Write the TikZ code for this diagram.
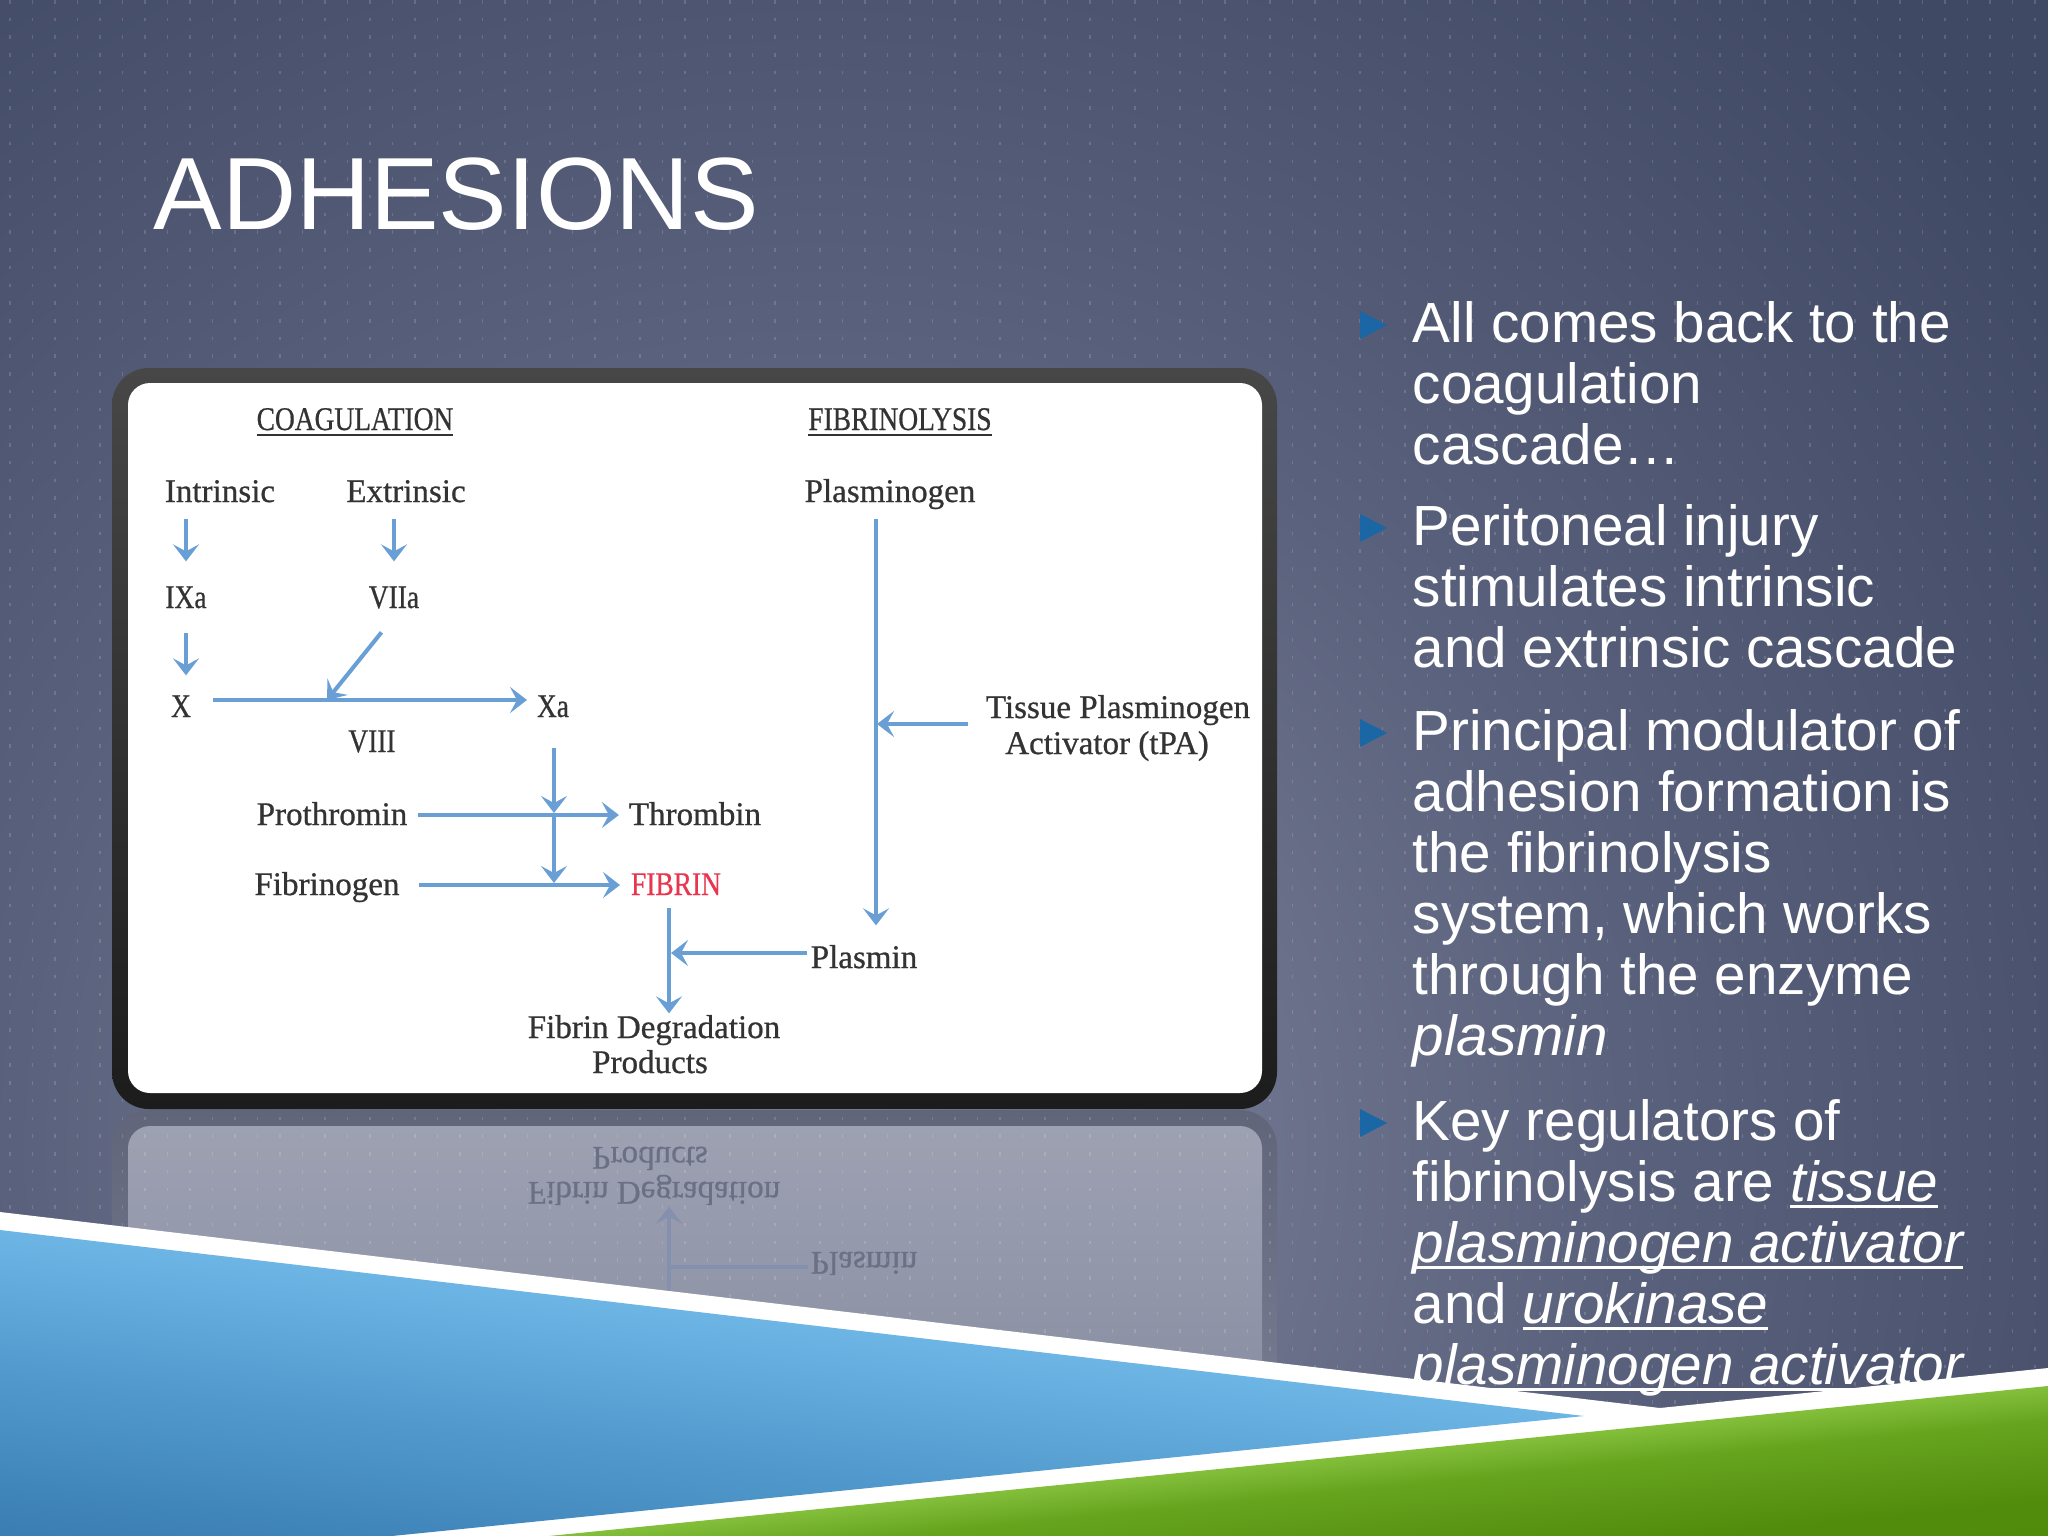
\documentclass[tikz,border=0pt]{standalone}
\usepackage{fontspec}
\usepackage{graphicx}
\setmainfont{Liberation Serif}
\newfontfamily\arialf{Liberation Sans}
\newfontfamily\diagfont[FakeBold=0.7]{Liberation Serif}
\usetikzlibrary{arrows.meta,calc}

\definecolor{bgA}{HTML}{868CA3}
\definecolor{bgB}{HTML}{70768F}
\definecolor{bgC}{HTML}{5A617C}
\definecolor{bgD}{HTML}{4A526D}
\definecolor{bgE}{HTML}{404963}
\definecolor{bl0}{HTML}{1B5686}
\definecolor{bl1}{HTML}{2B6CA2}
\definecolor{bl2}{HTML}{3C80B5}
\definecolor{bl3}{HTML}{5199CC}
\definecolor{bl4}{HTML}{6CB4E4}
\definecolor{bl5}{HTML}{7CC3EE}
\definecolor{bl6}{HTML}{5AAADE}
\definecolor{bl7}{HTML}{4392CC}
\definecolor{gr0}{HTML}{4A8408}
\definecolor{gr1}{HTML}{528C0C}
\definecolor{gr2}{HTML}{66A41E}
\definecolor{gr3}{HTML}{9AD452}
\definecolor{gr4}{HTML}{B4EC70}
\definecolor{gr5}{HTML}{86C63A}
\definecolor{gr6}{HTML}{58961A}
\definecolor{arrowblue}{HTML}{6A9FD6}
\definecolor{labgray}{HTML}{333333}
\definecolor{fibred}{HTML}{E8364F}
\definecolor{frameTop}{HTML}{474747}
\definecolor{frameBot}{HTML}{1C1C1C}
\definecolor{rfo1}{HTML}{60657A}
\definecolor{rfo2}{HTML}{7E8499}
\definecolor{rfi1}{HTML}{9DA1B2}
\definecolor{rfi2}{HTML}{81879C}
\definecolor{reflText}{HTML}{6C7084}
\definecolor{reflArrow}{HTML}{8590AE}
\definecolor{bulletblue}{HTML}{1B66A4}

\pgfdeclareradialshading{bgsh}{\pgfpoint{0bp}{0bp}}{color(0bp)=(bgA); color(6bp)=(bgB); color(13bp)=(bgC); color(20bp)=(bgD); color(25bp)=(bgE); color(50bp)=(bgE)}
\pgfdeclareverticalshading{bluesh}{100bp}{color(0bp)=(bl0); color(29.8bp)=(bl1); color(41.8bp)=(bl2); color(54.5bp)=(bl3); color(67.3bp)=(bl4); color(75.5bp)=(bl5); color(81.8bp)=(bl6); color(85.5bp)=(bl7); color(100bp)=(bl7)}
\pgfdeclareverticalshading{greensh}{100bp}{color(0bp)=(gr0); color(50bp)=(gr1); color(60bp)=(gr2); color(67.5bp)=(gr3); color(72bp)=(gr4); color(75.5bp)=(gr5); color(78.5bp)=(gr6); color(100bp)=(gr6)}

\newsavebox\ulbox
\newcommand\myul[1]{\sbox\ulbox{#1}\rlap{\rule[-0.125em]{\wd\ulbox}{0.055em}}\usebox\ulbox}
\newcommand\hdul[1]{\sbox\ulbox{#1}\rlap{\rule[-0.19em]{\wd\ulbox}{0.08em}}\usebox\ulbox}
\newcommand\nrw[1]{\scalebox{0.83}[1]{#1}}

\begin{document}
\begin{tikzpicture}[x=0.01cm,y=-0.01cm,
  lab/.style={anchor=base, inner sep=0pt, outer sep=0pt, text=labgray,
    font=\diagfont\fontsize{9.4pt}{11pt}\selectfont, text height=0.7em, text depth=0.25em},
  arr/.style={draw=arrowblue, line width=1.15pt,
    -{Stealth[length=0.17cm, width=0.26cm, inset=0.07cm]}},
  rarr/.style={draw=reflArrow, line width=1.15pt,
    -{Stealth[length=0.17cm, width=0.26cm, inset=0.07cm]}},
  gridtick/.style={draw=white, draw opacity=0.15, line width=0.4pt, dash pattern=on 1pt off 4.04pt},
  bulline/.style={anchor=base west, inner sep=0pt, text=white,
    font=\arialf\fontsize{16.1pt}{19pt}\selectfont},
  btri/.style={fill=bulletblue}
]
\useasboundingbox (0,0) rectangle (2048,1536);

% ---------- background ----------
\fill[bgE] (0,0) rectangle (2048,1536);
\begin{scope}
  \clip (0,0) rectangle (2048,1536);
  \shade[shading=bgsh] (820,1150) circle (1550);
\end{scope}

% ---------- reflection of the picture ----------
\shade[top color=rfo1, bottom color=rfo2, rounded corners=0.37cm] (112,1110) rectangle (1277,1520);
\shade[top color=rfi1, bottom color=rfi2, rounded corners=0.22cm] (128,1126) rectangle (1262,1504);
\begin{scope}[cm={1,0,0,-1,(0,2220)}, transform shape]
  \node[lab, text=reflText] (rfdp1) at (654,1038) {Fibrin Degradation};
  \node[lab, text=reflText] (rfdp2) at (650,1073) {Products};
  \node[lab, text=reflText] (rplasmin) at (864,968) {Plasmin};
  \node[lab, text=reflText] (rfibrin) at (676,895) {\nrw{FIBRIN}};
  \coordinate (rj12) at (669,953);
  \draw[rarr, shorten <=0.04cm] (rfibrin.south -| rj12) -- (rfdp1.north -| rj12);
  \draw[draw=reflArrow, line width=1.15pt, shorten <=0.03cm, shorten >=0.02cm] (rplasmin.west |- rj12) -- (rj12);
\end{scope}

% ---------- dot grid ----------
\foreach \i in {0,...,91} {
  \draw[gridtick] ({10+22.5*\i},0) -- ({10+22.5*\i},1536);
}

% ---------- picture frame ----------
\shade[top color=frameTop, bottom color=frameBot, rounded corners=0.37cm] (112,368) rectangle (1277,1109);
\fill[white, rounded corners=0.22cm] (128,383) rectangle (1262,1093);

% ---------- diagram ----------
\node[lab] (coag) at (355,430) {\nrw{\hdul{COAGULATION}}};
\node[lab] (fibl) at (900,430) {\nrw{\hdul{FIBRINOLYSIS}}};
\node[lab] (intr) at (220,502) {Intrinsic};
\node[lab] (extr) at (406,502) {Extrinsic};
\node[lab] (ixa) at (186,608) {\nrw{IXa}};
\node[lab] (viia) at (394,608) {\nrw{VIIa}};
\node[lab] (xnode) at (181,717) {\nrw{X}};
\node[lab] (xa) at (553,717) {\nrw{Xa}};
\node[lab] (viii) at (372,752) {\nrw{VIII}};
\node[lab] (proth) at (332,825) {Prothromin};
\node[lab] (thromb) at (695,825) {Thrombin};
\node[lab] (fibgen) at (327,895) {Fibrinogen};
\node[lab, text=fibred] (fibrin) at (676,895) {\nrw{FIBRIN}};
\node[lab] (plg) at (890,502) {Plasminogen};
\node[lab] (tpa1) at (1118,718) {Tissue Plasminogen};
\node[lab] (tpa2) at (1107,754) {Activator (tPA)};
\node[lab] (plasmin) at (864,968) {Plasmin};
\node[lab] (fdp1) at (654,1038) {Fibrin Degradation};
\node[lab] (fdp2) at (650,1073) {Products};

\coordinate (j8) at (327,700);
\coordinate (j9) at (554,815);
\coordinate (j10) at (554,885);
\coordinate (j11) at (876,724);
\coordinate (j12) at (669,953);

\draw[arr, shorten <=0.08cm, shorten >=0.22cm] (intr.south -| ixa.north) -- (ixa.north);
\draw[arr, shorten <=0.08cm, shorten >=0.22cm] (extr.south -| viia.north) -- (viia.north);
\draw[arr, shorten <=0.16cm, shorten >=0.17cm] (ixa.south) -- (ixa.south |- xnode.north);
\draw[arr, shorten <=0.22cm, shorten >=0.10cm] (xnode.east |- j8) -- (xa.west |- j8);
\draw[arr, shorten <=0.20cm] (viia.south) -- (j8);
\draw[arr, shorten <=0.22cm, shorten >=0.02cm] (xa.south -| j9) -- (j9);
\draw[arr, shorten >=0.02cm] (j9) -- (j10);
\draw[arr, shorten <=0.11cm, shorten >=0.10cm] (proth.east |- j9) -- (thromb.west |- j9);
\draw[arr, shorten <=0.19cm, shorten >=0.11cm] (fibgen.east |- j10) -- (fibrin.west |- j10);
\draw[arr, shorten <=0.08cm, shorten >=0.18cm] (plg.south -| j11) -- (plasmin.north -| j11);
\draw[arr, shorten <=0.18cm, shorten >=0.01cm] (tpa1.west |- j11) -- (j11);
\draw[arr, shorten <=0.04cm] (fibrin.south -| j12) -- (fdp1.north -| j12);
\draw[arr, shorten <=0.04cm, shorten >=0.02cm] (plasmin.west |- j12) -- (j12);

% ---------- title ----------
\node[anchor=base west, inner sep=0pt, text=white, font=\arialf\fontsize{29.2pt}{32pt}\selectfont] (title) at (153,229) {ADHESIONS};

% ---------- bullets ----------
\foreach \by in {342,545,750,1140} {
  \fill[btri] (1360,\by-31) -- (1360,\by-3) -- (1387,\by-17) -- cycle;
}
\node[bulline] (t1a) at (1412,342) {All comes back to the};
\node[bulline] (t1b) at (1412,403) {coagulation};
\node[bulline] (t1c) at (1412,464) {cascade…};
\node[bulline] (t2a) at (1412,545) {Peritoneal injury};
\node[bulline] (t2b) at (1412,606) {stimulates intrinsic};
\node[bulline] (t2c) at (1412,667) {and extrinsic cascade};
\node[bulline] (t3a) at (1412,750) {Principal modulator of};
\node[bulline] (t3b) at (1412,811) {adhesion formation is};
\node[bulline] (t3c) at (1412,872) {the fibrinolysis};
\node[bulline] (t3d) at (1412,933) {system, which works};
\node[bulline] (t3e) at (1412,994) {through the enzyme};
\node[bulline] (t3f) at (1412,1055) {\itshape plasmin};
\node[bulline] (t4a) at (1412,1140) {Key regulators of};
\node[bulline] (t4b) at (1412,1201) {fibrinolysis are \myul{\itshape tissue}};
\node[bulline] (t4c) at (1412,1262) {\myul{\itshape plasminogen activator}};
\node[bulline] (t4d) at (1412,1323) {and \myul{\itshape urokinase}};
\node[bulline] (t4e) at (1412,1384) {\myul{\itshape plasminogen activator}};

% ---------- bottom bands ----------
\fill[white] (0,1212) -- (1660,1408) -- (2048,1368) -- (2048,1536) -- (0,1536) -- cycle;
\begin{scope}
  \clip (0,1230) -- (1584,1416) -- (392,1536) -- (0,1536) -- cycle;
  \begin{scope}[transform canvas={rotate around={-6.7:(0,1230)}}]
    \shade[shading=bluesh] (-300,1150) rectangle (2000,1700);
  \end{scope}
\end{scope}
\begin{scope}
  \clip (2048,1386) -- (549,1536) -- (2048,1536) -- cycle;
  \begin{scope}[transform canvas={rotate around={5.7:(2048,1386)}}]
    \shade[shading=greensh] (300,1300) rectangle (2400,1700);
  \end{scope}
\end{scope}
\end{tikzpicture}
\end{document}
